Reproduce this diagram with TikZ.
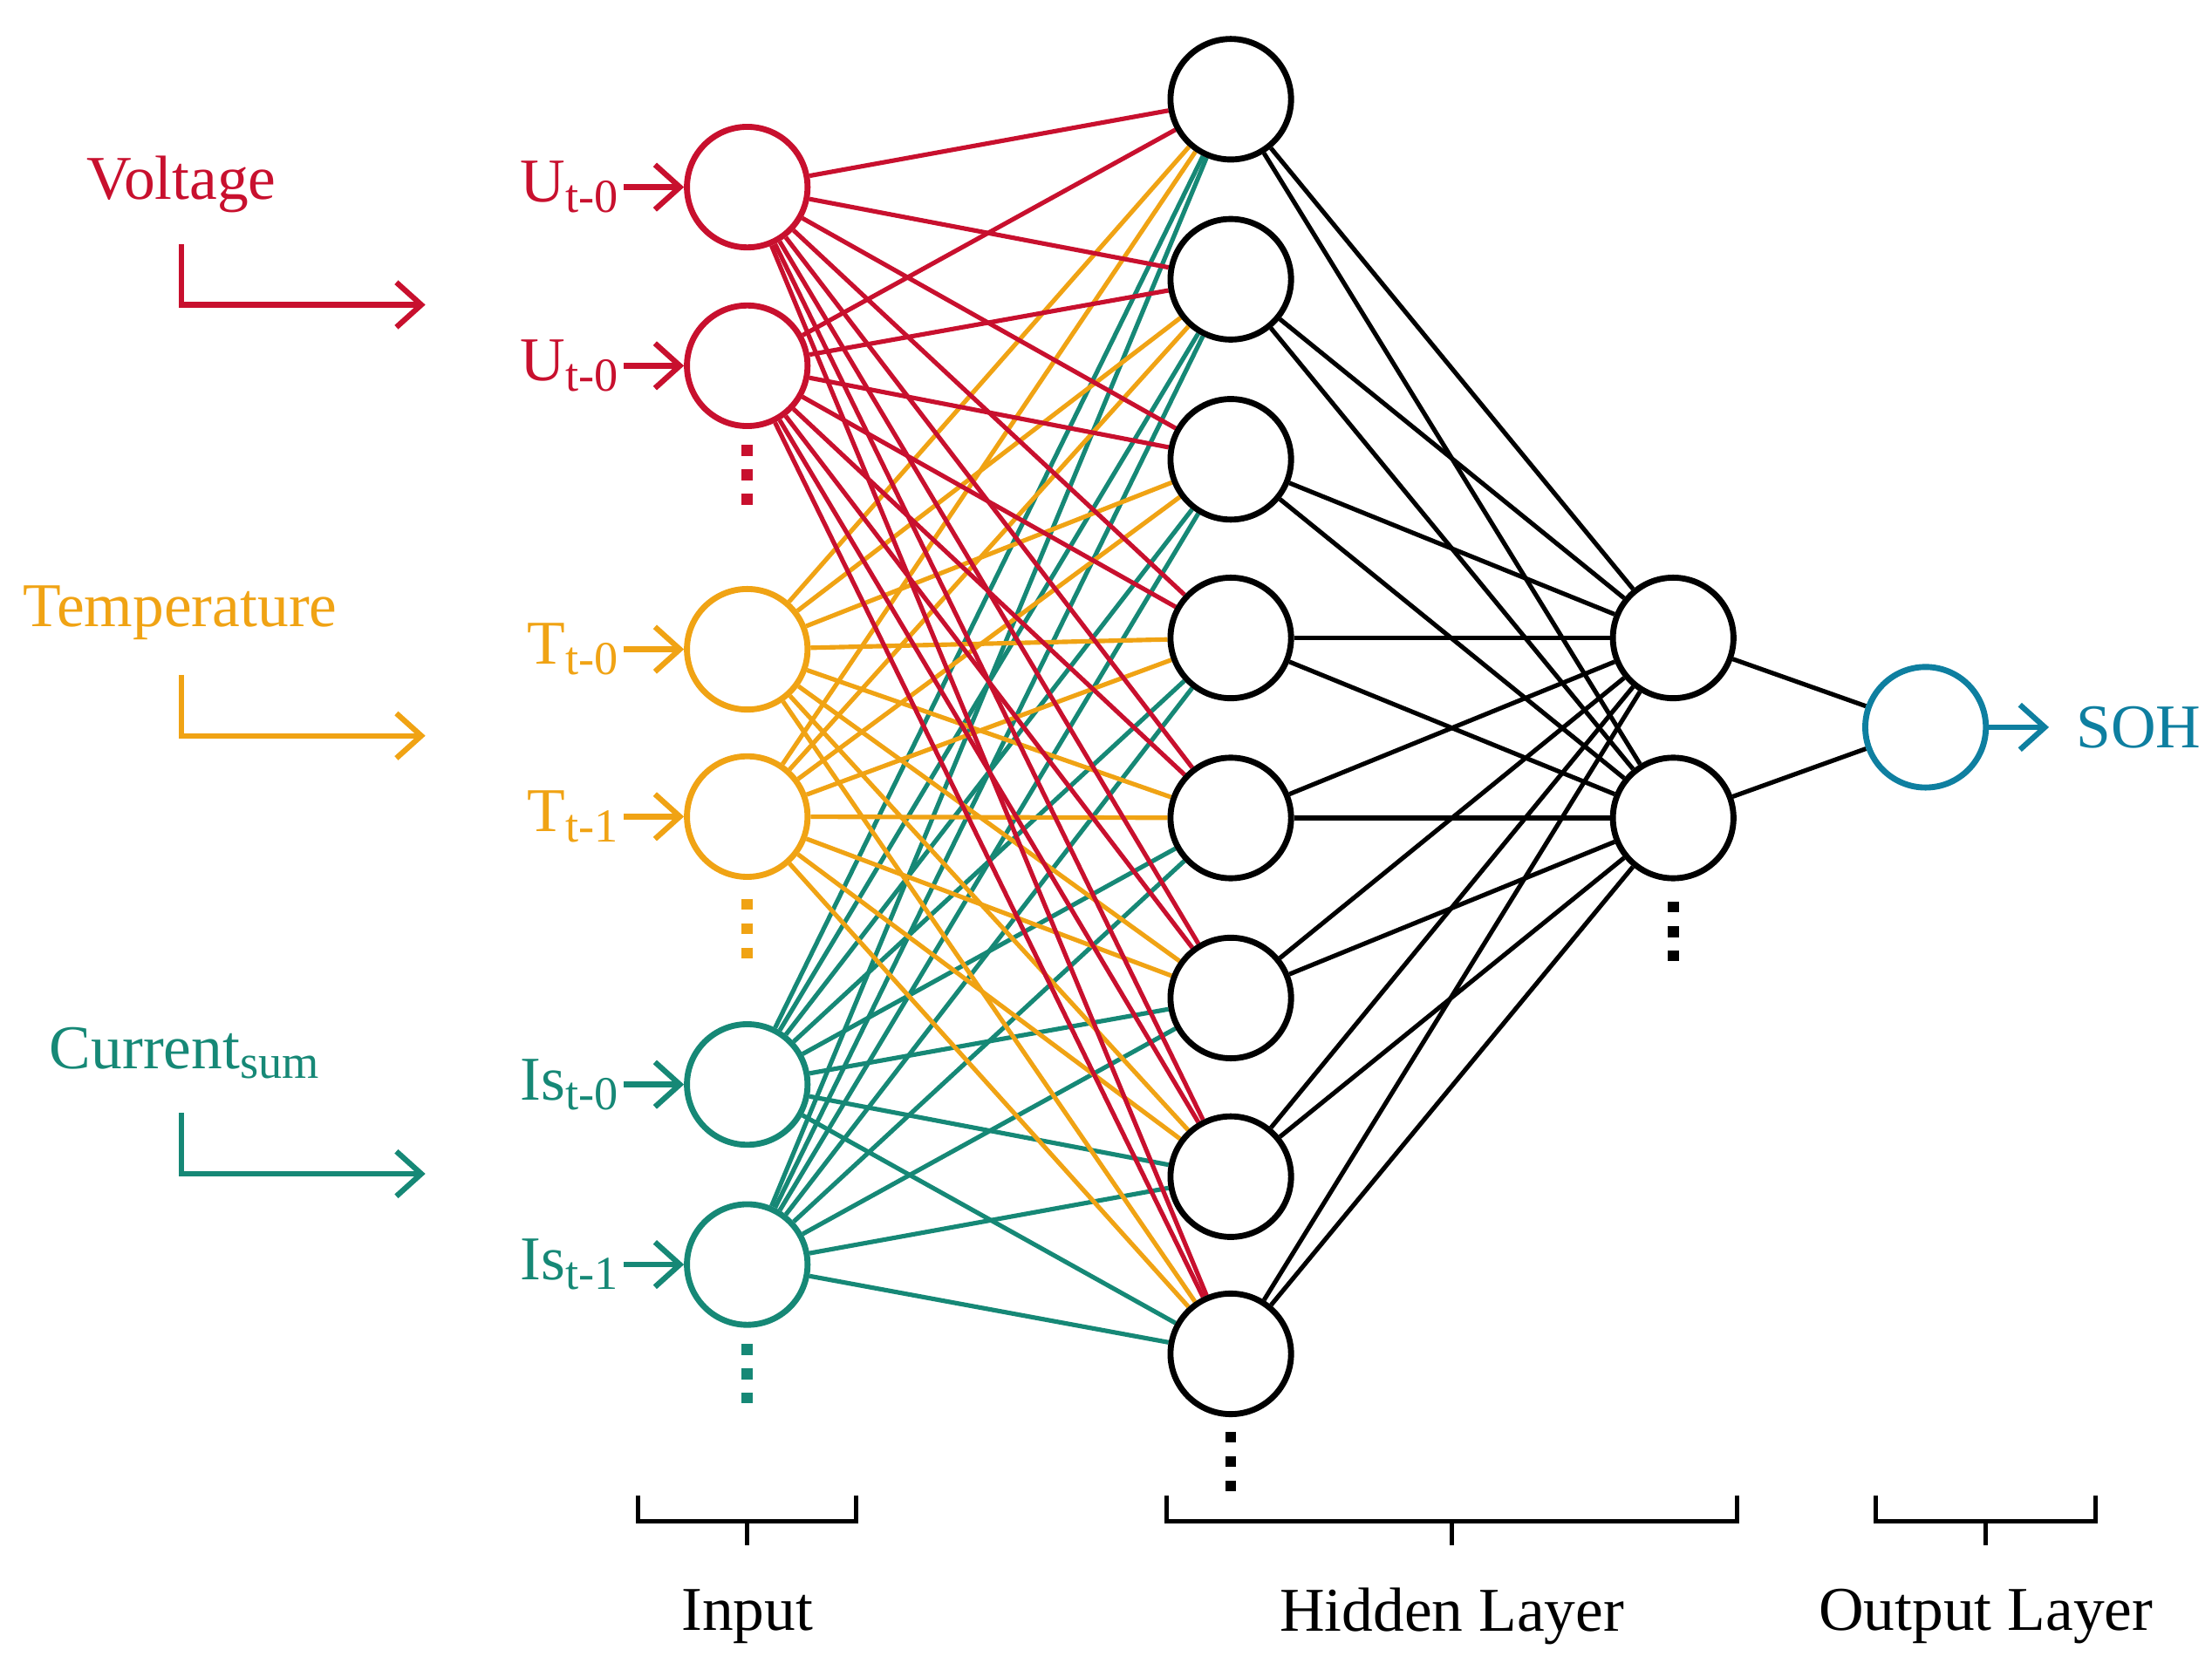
\documentclass[tikz,border=0pt]{standalone}
\usepackage{fontspec}
\setmainfont{Liberation Serif}
\usetikzlibrary{backgrounds,arrows.meta}
\definecolor{cr}{RGB}{200,16,46}
\definecolor{co}{RGB}{240,163,20}
\definecolor{ct}{RGB}{22,136,118}
\definecolor{cb}{RGB}{14,127,160}
\newcommand{\sbx}[1]{\raisebox{-0.35ex}{\fontsize{9.5}{11}\selectfont #1}}
\begin{document}
\begin{tikzpicture}[x=0.01cm,y=-0.01cm,
  neu/.style={circle,draw,line width=1.2pt,minimum size=0.85cm,inner sep=0,fill=white},
  ln/.style={line width=0.9pt},
  arr/.style={line width=1.1pt,-{Straight Barb[length=5pt,width=9pt]}},
  dots/.style={line width=2.2pt,dash pattern=on 2.2pt off 2.7pt},
  txt/.style={font=\fontsize{12.5}{15}\selectfont},
  br/.style={line width=0.9pt}]
\useasboundingbox (0,0) rectangle (1560,1173);
\foreach \n/\y/\c in {u0/132/cr,u1/258/cr,t0/458/co,t1/576/co,i0/765/ct,i1/892/ct}
  \node[neu,draw=\c] (\n) at (527,\y) {};
\foreach \k/\y in {1/70,2/197,3/324,4/450,5/577,6/704,7/830,8/955}
  \node[neu] (h\k) at (868,\y) {};
\node[neu] (g1) at (1180,450) {};
\node[neu] (g2) at (1180,577) {};
\node[neu,draw=cb] (o) at (1358,513) {};
\begin{pgfonlayer}{background}
\foreach \n in {i0,i1}\foreach \k in {1,...,8}\draw[ln,ct] (\n)--(h\k);
\foreach \n in {t0,t1}\foreach \k in {1,...,8}\draw[ln,co] (\n)--(h\k);
\foreach \n in {u0,u1}\foreach \k in {1,...,8}\draw[ln,cr] (\n)--(h\k);
\foreach \k in {1,...,8}\foreach \g in {g1,g2}\draw[ln,black] (h\k)--(\g);
\draw[ln] (g1)--(o); \draw[ln] (g2)--(o);
\end{pgfonlayer}
\foreach \n/\y/\c/\t in {u0/132/cr/{U\sbx{t-0}},u1/258/cr/{U\sbx{t-0}},t0/458/co/{T\sbx{t-0}},t1/576/co/{T\sbx{t-1}},i0/765/ct/{Is\sbx{t-0}},i1/892/ct/{Is\sbx{t-1}}}{
  \coordinate (s\n) at (440,\y);
  \draw[arr,\c] (s\n)--(\n);
  \node[txt,text=\c,anchor=east,inner sep=1pt] (l\n) at (s\n) {\t};
}
\node[txt,text=cr] (vl) at (128,130) {Voltage};
\node[txt,text=co] (tl) at (127,432) {Temperature};
\node[txt,text=ct] (cl) at (130,743) {Current\sbx{sum}};
\foreach \y/\c/\m in {172/cr/a,476/co/b,785/ct/c}{
  \coordinate (\m1) at (128,\y); \coordinate (\m2) at (128,\y+43); \coordinate (\m3) at (300,\y+43);
  \draw[arr,\c] (\m1)--(\m2)--(\m3);}
\draw[dots,cr] (527,314)--(527,356);
\draw[dots,co] (527,634)--(527,676);
\draw[dots,ct] (527,948)--(527,990);
\draw[dots,black] (868,1010)--(868,1052);
\draw[dots,black] (1180,636)--(1180,678);
\coordinate (oe) at (1445,513);
\draw[arr,cb] (o)--(oe);
\node[txt,text=cb,anchor=west] (soh) at (1452,513) {SOH};
\foreach \a/\b/\t/\m in {450/604/Input/p,823/1225/Hidden Layer/q,1323/1478/Output Layer/r}{
  \draw[br] (\a,1055)--(\a,1073)--(\b,1073)--(\b,1055);
  \draw[br] ({(\a+\b)/2},1073)--({(\a+\b)/2},1090);
  \node[txt] (\m) at ({(\a+\b)/2},1140) {\t};}
\end{tikzpicture}
\end{document}
